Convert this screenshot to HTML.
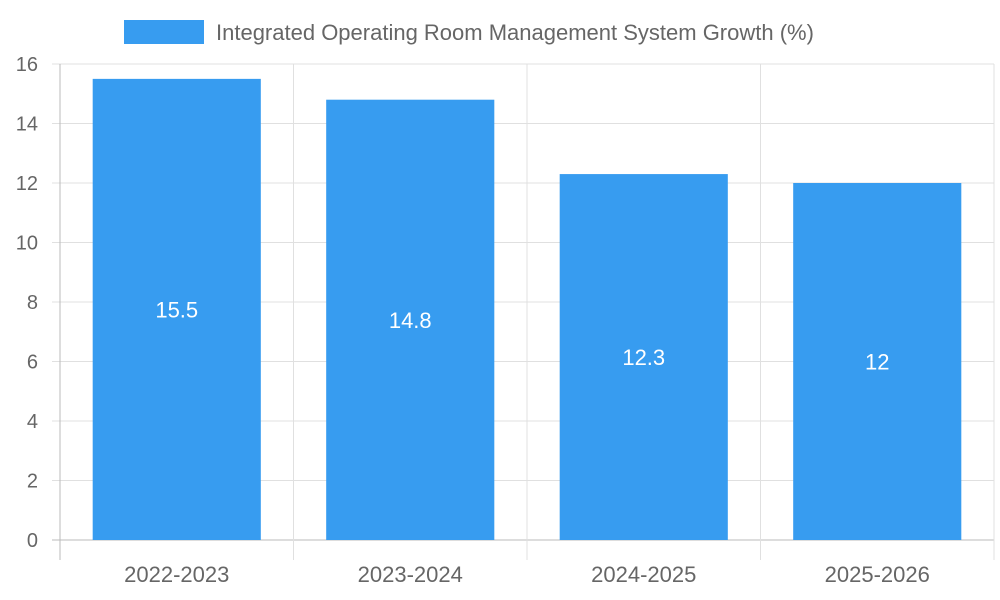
<!DOCTYPE html>
<html><head><meta charset="utf-8"><style>body{margin:0;background:#fff}svg{display:block;font-family:"Liberation Sans",sans-serif}</style></head>
<body>
<svg id="chart" width="1000" height="600" xmlns="http://www.w3.org/2000/svg">
<rect x="124" y="20" width="80" height="24" fill="#379cf0"/>
<text x="216" y="40" font-size="22" fill="#666">Integrated Operating Room Management System Growth (%)</text>
<g id="grid"></g><g id="bars"></g><g id="labels"></g>
</svg>
<script>
const categories = ["2022-2023","2023-2024","2024-2025","2025-2026"];
const values = [15.5,14.8,12.3,12];
const yTicks = [0,2,4,6,8,10,12,14,16];
const L=60,R=994,T=64,B=540,yMax=16;
const ns="http://www.w3.org/2000/svg";
const y=v=>B-(v/yMax)*(B-T);
const cw=(R-L)/categories.length;
const x=i=>L+i*cw;
function mk(tag,attrs,parent,text){const e=document.createElementNS(ns,tag);for(const k in attrs)e.setAttribute(k,attrs[k]);if(text!==undefined)e.textContent=text;document.getElementById(parent).appendChild(e);return e;}
yTicks.forEach(t=>{
  const g=mk('line',{x1:L-8,x2:R,y1:y(t),y2:y(t),stroke:t===0?'#bbb':'#e0e0e0','stroke-width':1},'grid');
  
  
  const l=mk('text',{x:L-22,y:y(t)+7,'text-anchor':'end','font-size':20,fill:'#666'},'labels',t);
  
  
});
for(let i=0;i<=categories.length;i++){
  const g=mk('line',{x1:x(i),x2:x(i),y1:T,y2:B+20,stroke:i===0?'#bbb':'#e0e0e0','stroke-width':1},'grid');
  
  
}
categories.forEach((c,i)=>{
  const bw=cw*0.72,bx=x(i)+(cw-bw)/2,top=y(values[i]);
  const r=mk('rect',{x:bx,y:top,width:bw,height:B-top,fill:'#379cf0'},'bars');
  
  
  const v=mk('text',{x:bx+bw/2,y:(top+B)/2+8,'text-anchor':'middle','font-size':22,fill:'#fff'},'labels',values[i]);
  
  
  const l=mk('text',{x:x(i)+cw/2,y:582,'text-anchor':'middle','font-size':22,fill:'#666'},'labels',c);
  
  
});
</script>
</body></html>
